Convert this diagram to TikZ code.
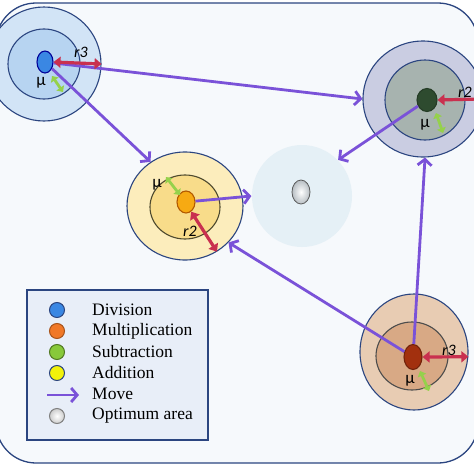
\documentclass[tikz,border=0pt]{standalone}
\usepackage{fontspec}
\setmainfont{Liberation Serif}
\newfontfamily\lblfont{Carlito}
\usetikzlibrary{arrows.meta,shapes.geometric}
\definecolor{frameC}{HTML}{2B4580}
\definecolor{bgC}{HTML}{F6F9FC}
\definecolor{blueOut}{HTML}{D2E4F6}
\definecolor{blueIn}{HTML}{B7D4F1}
\definecolor{blueDot}{HTML}{3A87E3}
\definecolor{greyOut}{HTML}{CACDE2}
\definecolor{greyIn}{HTML}{A7B3AF}
\definecolor{greyDot}{HTML}{2E4B2F}
\definecolor{yelOut}{HTML}{FCEDBC}
\definecolor{yelIn}{HTML}{F8DC8A}
\definecolor{yelDot}{HTML}{F7AA12}
\definecolor{brOut}{HTML}{E8CCB3}
\definecolor{brIn}{HTML}{D8A985}
\definecolor{brDot}{HTML}{A2300E}
\definecolor{optOut}{HTML}{E5F0F6}
\definecolor{optDot}{HTML}{D8E0E6}
\definecolor{purpC}{HTML}{7A52D8}
\definecolor{redC}{HTML}{C9304F}
\definecolor{grnC}{HTML}{95D14B}
\definecolor{legFill}{HTML}{E8EEF8}
\definecolor{legMul}{HTML}{F07828}
\definecolor{legSub}{HTML}{88C93A}
\definecolor{legAdd}{HTML}{F2F20A}
\begin{document}
\begin{tikzpicture}[x=1pt,y=-1pt,
  ell/.style={ellipse,inner sep=0pt,line width=1.1pt},
  ring/.style={ell,draw=frameC},
  moveArr/.style={draw=purpC,line width=2.8pt,-{Straight Barb[length=6pt,width=14pt]}},
  radArr/.style={draw=redC,line width=3.2pt,{Triangle[length=7pt,width=11pt]}-{Triangle[length=7pt,width=11pt]}},
  radOne/.style={draw=redC,line width=3.2pt,-{Triangle[length=7pt,width=11pt]}},
  muArr/.style={draw=grnC,line width=2.8pt,{Triangle[length=5pt,width=9pt]}-{Triangle[length=5pt,width=9pt]}},
  rlabel/.style={font=\lblfont\itshape\fontsize{16}{16}\selectfont,inner sep=0pt},
  mulabel/.style={font=\lblfont\fontsize{17}{17}\selectfont,inner sep=0pt},
  legtext/.style={anchor=west,font=\fontsize{17.5}{18}\selectfont,inner sep=0pt},
  legdot/.style={circle,inner sep=0pt,minimum size=15pt,line width=1pt}]
\useasboundingbox (0,0) rectangle (474,474);
\clip (0,0) rectangle (474,474);
\node (frame) [draw=frameC,fill=bgC,rounded corners=40pt,line width=1.3pt,minimum width=482pt,minimum height=460pt,inner sep=0pt] at (237,233) {};

% blue (division)
\node (bO) [ring,fill=blueOut,minimum width=114pt,minimum height=114pt] at (44,64) {};
\node (bI) [ring,fill=blueIn,minimum width=72pt,minimum height=70pt] at (44,64) {};
\node (bD) [ell,draw=blue!60!black,fill=blueDot,minimum width=16pt,minimum height=22pt] at (45,62) {};
% grey
\node (gO) [ring,fill=greyOut,minimum width=120pt,minimum height=116pt] at (423,99) {};
\node (gI) [ring,fill=greyIn,minimum width=80pt,minimum height=80pt] at (425,100) {};
\node (gD) [ell,draw=greyDot!80!black,fill=greyDot,minimum width=20pt,minimum height=23pt] at (427,100) {};
% yellow
\node (yO) [ring,fill=yelOut,minimum width=116pt,minimum height=108pt] at (185,206) {};
\node (yI) [ell,draw=black!60!olive,fill=yelIn,minimum width=70pt,minimum height=64pt] at (185,207) {};
\node (yD) [ell,draw=orange!70!black,fill=yelDot,minimum width=18pt,minimum height=22pt] at (186,202) {};
% brown
\node (rO) [ring,fill=brOut,minimum width=108pt,minimum height=116pt] at (414,352) {};
\node (rI) [ell,draw=black!70,fill=brIn,minimum width=72pt,minimum height=68pt] at (412,356) {};
\node (rD) [ell,draw=brDot!70!black,fill=brDot,minimum width=18pt,minimum height=25pt] at (413,357) {};
% optimum
\node (oO) [ell,fill=optOut,minimum width=100pt,minimum height=102pt] at (302,196) {};
\node (oD) [ell,draw=black!65,line width=0.8pt,inner color=white,outer color=optDot!85!black,minimum width=18pt,minimum height=24pt] at (301,192) {};

% moves
\draw[moveArr] (bD) -- (gO.180);
\draw[moveArr] (bD) -- (yO.128);
\draw[moveArr] (gD) -- (oO.45);
\draw[moveArr] (rD) -- (gO.-88);
\draw[moveArr] (rD) -- (yO.-40);
\draw[moveArr] (yD) -- (oO.180);

% radii
\draw[radArr] (bD.0) -- (bO.0);
\node (r3a) [rlabel] at (81,52) {r3};
\coordinate (gR) at (480,99);
\draw[radOne] (gR) -- (gD.0);
\node (r2a) [rlabel] at (465,92) {r2};
\draw[radArr] (yD.-62) -- (yO.-55);
\node (r2b) [rlabel] at (190,231) {r2};
\draw[radArr] (rD.0) -- (rO.-5);
\node (r3b) [rlabel] at (449,350) {r3};

% mu
\coordinate (bm1) at (52,76); \coordinate (bm2) at (63,92);
\draw[muArr] (bm1) -- (bm2);
\node (mua) [mulabel] at (41,83) {μ};
\coordinate (gm1) at (436,113); \coordinate (gm2) at (443,133);
\draw[muArr] (gm1) -- (gm2);
\node (mub) [mulabel] at (425,125) {μ};
\coordinate (ym1) at (166,177); \coordinate (ym2) at (180,195);
\draw[muArr] (ym1) -- (ym2);
\node (muc) [mulabel] at (157,185) {μ};
\coordinate (rm1) at (420,371); \coordinate (rm2) at (429,391);
\draw[muArr] (rm1) -- (rm2);
\node (mud) [mulabel] at (410,381) {μ};

% legend
\node (leg) [draw=frameC,fill=legFill,line width=1.3pt,minimum width=181pt,minimum height=150pt,inner sep=0pt] at (117.5,365) {};
\node (l1) [legdot,draw=frameC,fill=blueDot] at (57,310) {};
\node (t1) [legtext] at (92,310) {Division};
\node (l2) [legdot,draw=legMul!70!black,fill=legMul] at (57,331) {};
\node (t2) [legtext] at (92,331) {Multiplication};
\node (l3) [legdot,draw=legSub!60!black,fill=legSub] at (57,352) {};
\node (t3) [legtext] at (92,352) {Subtraction};
\node (l4) [legdot,draw=frameC,fill=legAdd] at (57,373) {};
\node (t4) [legtext] at (92,373) {Addition};
\coordinate (m1) at (47,395); \coordinate (m2) at (79,395);
\draw[moveArr] (m1) -- (m2);
\node (t5) [legtext] at (92,394) {Move};
\node (l6) [legdot,draw=black!50,inner color=white,outer color=black!20] at (57,416) {};
\node (t6) [legtext] at (92,416) {Optimum area};
\end{tikzpicture}
\end{document}
